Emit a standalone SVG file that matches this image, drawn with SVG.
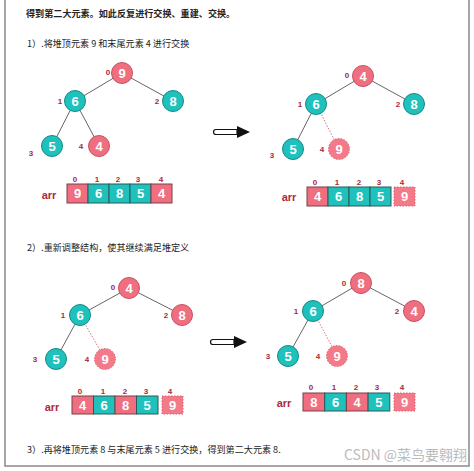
<svg xmlns="http://www.w3.org/2000/svg" width="474" height="471" viewBox="0 0 474 471">
<style>
.t{font-family:"Noto Sans CJK SC","Noto Sans",sans-serif;font-size:9.1px;fill:#222}
.tb{font-weight:bold}
.p{fill:#ef6f80;stroke:#c9505f;stroke-width:1}
.c{fill:#1fc1bc;stroke:#138a86;stroke-width:1}
.d{fill:#f27a89;stroke:#e06070;stroke-width:1;stroke-dasharray:1.5 1.5}
.n{font-family:"Liberation Sans",Arial,sans-serif;font-size:13px;font-weight:bold;fill:#fff;text-anchor:middle}
.i{font-family:"Liberation Sans",Arial,sans-serif;font-size:8px;font-weight:bold;fill:#a8283a;text-anchor:middle}
.arr{font-family:"Liberation Sans",Arial,sans-serif;font-size:11px;font-weight:bold;fill:#b02a3c;text-anchor:middle}
.e{stroke:#666;stroke-width:1;fill:none}
.ed{stroke:#e07080;stroke-width:1;fill:none;stroke-dasharray:1.5 1.5}
.cp{fill:#ef6f80;stroke:#7a4048;stroke-width:1}
.cc{fill:#1fc1bc;stroke:#2a5a58;stroke-width:1}
.cd{fill:#f27a89;stroke:#e06070;stroke-width:1;stroke-dasharray:1.5 1.5}
</style>
<rect width="474" height="471" fill="#fff"/>
<path d="M5 0 V466 H469 V0" fill="none" stroke="#8a8a8a" stroke-width="1.5"/>

<text class="t tb" x="26" y="17">得到第二大元素。如此反复进行交换、重建、交换。</text>
<text class="t" x="27" y="47">1）.将堆顶元素 9 和末尾元素 4 进行交换</text>
<text class="t" x="27" y="251">2）.重新调整结构，使其继续满足堆定义</text>
<text class="t" x="27" y="453">3）.再将堆顶元素 8 与末尾元素 5 进行交换，得到第二大元素 8.</text>
<text x="344" y="460" font-family="&quot;Noto Sans CJK SC&quot;,sans-serif" font-size="14" fill="#bbb">CSDN @菜鸟要翱翔</text>

<g id="connectors">
  <line class="e" x1="122" y1="73" x2="75" y2="101"/>
  <line class="e" x1="122" y1="73" x2="173" y2="101"/>
  <line class="e" x1="75" y1="101" x2="52" y2="146"/>
  <line class="e" x1="75" y1="101" x2="99" y2="146"/>

  <line class="e" x1="363" y1="76" x2="316" y2="104"/>
  <line class="e" x1="363" y1="76" x2="414" y2="104"/>
  <line class="e" x1="316" y1="104" x2="293" y2="149"/>
  <line class="ed" x1="316" y1="104" x2="339" y2="149"/>

  <line class="e" x1="129" y1="288" x2="80" y2="315"/>
  <line class="e" x1="129" y1="288" x2="182" y2="315"/>
  <line class="e" x1="80" y1="315" x2="56" y2="359"/>
  <line class="ed" x1="80" y1="315" x2="105" y2="359"/>

  <line class="e" x1="361" y1="283" x2="313" y2="311"/>
  <line class="e" x1="361" y1="283" x2="414" y2="311"/>
  <line class="e" x1="313" y1="311" x2="288" y2="356"/>
  <line class="ed" x1="313" y1="311" x2="337" y2="356"/>

  <g id="arrow1">
    <path d="M216 129.5 H237 V134.5 H216 A2.5 2.5 0 0 1 216 129.5 Z" fill="#fff" stroke="#111" stroke-width="1.2"/>
    <path d="M237 126 L250 132 L237 138 Z" fill="#111"/>
  </g>
  <g id="arrow2">
    <path d="M213 339.5 H234 V344.5 H213 A2.5 2.5 0 0 1 213 339.5 Z" fill="#fff" stroke="#111" stroke-width="1.2"/>
    <path d="M234 336 L247 342 L234 348 Z" fill="#111"/>
  </g>
</g>

<!-- Tree 1 -->
<g id="t1n0"><circle class="p" cx="122" cy="73" r="10.5"/><text class="n" x="122" y="77.5">9</text><text class="i" x="108" y="75">0</text></g>
<g id="t1n1"><circle class="c" cx="75" cy="101" r="10.5"/><text class="n" x="75" y="105.5">6</text><text class="i" x="60" y="104">1</text></g>
<g id="t1n2"><circle class="c" cx="173" cy="101" r="10.5"/><text class="n" x="173" y="105.5">8</text><text class="i" x="157" y="104">2</text></g>
<g id="t1n3"><circle class="c" cx="52" cy="146" r="10.5"/><text class="n" x="52" y="150.5">5</text><text class="i" x="31" y="156">3</text></g>
<g id="t1n4"><circle class="p" cx="99" cy="146" r="10.5"/><text class="n" x="99" y="150.5">4</text><text class="i" x="81" y="149">4</text></g>

<g id="arr1">
  <text class="arr" x="49" y="199">arr</text>
  <rect class="cp" x="67" y="184" width="21" height="19"/><text class="n" x="77.5" y="198">9</text>
  <rect class="cc" x="88" y="184" width="21" height="19"/><text class="n" x="98.5" y="198">6</text>
  <rect class="cc" x="109" y="184" width="21" height="19"/><text class="n" x="119.5" y="198">8</text>
  <rect class="cc" x="130" y="184" width="21" height="19"/><text class="n" x="140.5" y="198">5</text>
  <rect class="cp" x="151" y="184" width="21" height="19"/><text class="n" x="161.5" y="198">4</text>
  <text class="i" x="75" y="182">0</text><text class="i" x="97" y="182">1</text><text class="i" x="118" y="182">2</text><text class="i" x="138" y="182">3</text><text class="i" x="161" y="182">4</text>
</g>

<!-- Tree 2 -->
<g id="t2n0"><circle class="p" cx="363" cy="76" r="10.5"/><text class="n" x="363" y="80.5">4</text><text class="i" x="347" y="78">0</text></g>
<g id="t2n1"><circle class="c" cx="316" cy="104" r="10.5"/><text class="n" x="316" y="108.5">6</text><text class="i" x="300" y="107">1</text></g>
<g id="t2n2"><circle class="c" cx="414" cy="104" r="10.5"/><text class="n" x="414" y="108.5">8</text><text class="i" x="398" y="107">2</text></g>
<g id="t2n3"><circle class="c" cx="293" cy="149" r="10.5"/><text class="n" x="293" y="153.5">5</text><text class="i" x="272" y="158">3</text></g>
<g id="t2n4"><circle class="d" cx="339" cy="149" r="10.5"/><text class="n" x="339" y="153.5">9</text><text class="i" x="322" y="152">4</text></g>

<g id="arr2">
  <text class="arr" x="289" y="201">arr</text>
  <rect class="cp" x="307" y="187" width="21" height="19"/><text class="n" x="317.5" y="201">4</text>
  <rect class="cc" x="328" y="187" width="21" height="19"/><text class="n" x="338.5" y="201">6</text>
  <rect class="cc" x="349" y="187" width="21" height="19"/><text class="n" x="359.5" y="201">8</text>
  <rect class="cc" x="370" y="187" width="21" height="19"/><text class="n" x="380.5" y="201">5</text>
  <rect class="cd" x="394" y="187" width="21" height="19"/><text class="n" x="404.5" y="201">9</text>
  <text class="i" x="315" y="185">0</text><text class="i" x="337" y="185">1</text><text class="i" x="359" y="185">2</text><text class="i" x="379" y="185">3</text><text class="i" x="402" y="185">4</text>
</g>

<!-- Tree 3 -->
<g id="t3n0"><circle class="p" cx="129" cy="288" r="10.5"/><text class="n" x="129" y="292.5">4</text><text class="i" x="113" y="290">0</text></g>
<g id="t3n1"><circle class="c" cx="80" cy="315" r="10.5"/><text class="n" x="80" y="319.5">6</text><text class="i" x="63" y="318">1</text></g>
<g id="t3n2"><circle class="p" cx="182" cy="315" r="10.5"/><text class="n" x="182" y="319.5">8</text><text class="i" x="166" y="318">2</text></g>
<g id="t3n3"><circle class="c" cx="56" cy="359" r="10.5"/><text class="n" x="56" y="363.5">5</text><text class="i" x="35" y="362">3</text></g>
<g id="t3n4"><circle class="d" cx="105" cy="359" r="10.5"/><text class="n" x="105" y="363.5">9</text><text class="i" x="87" y="362">4</text></g>

<g id="arr3">
  <text class="arr" x="52" y="411">arr</text>
  <rect class="cp" x="72" y="396" width="21.5" height="18"/><text class="n" x="82.7" y="409.5">4</text>
  <rect class="cc" x="93.5" y="396" width="21.5" height="18"/><text class="n" x="104.2" y="409.5">6</text>
  <rect class="cp" x="115" y="396" width="21.5" height="18"/><text class="n" x="125.7" y="409.5">8</text>
  <rect class="cc" x="136.5" y="396" width="21.5" height="18"/><text class="n" x="147.2" y="409.5">5</text>
  <rect class="cd" x="162" y="396" width="21" height="18"/><text class="n" x="172.5" y="409.5">9</text>
  <text class="i" x="80" y="394">0</text><text class="i" x="103" y="394">1</text><text class="i" x="125" y="394">2</text><text class="i" x="146" y="394">3</text><text class="i" x="170" y="394">4</text>
</g>

<!-- Tree 4 -->
<g id="t4n0"><circle class="p" cx="361" cy="283" r="10.5"/><text class="n" x="361" y="287.5">8</text><text class="i" x="344" y="286">0</text></g>
<g id="t4n1"><circle class="c" cx="313" cy="311" r="10.5"/><text class="n" x="313" y="315.5">6</text><text class="i" x="296" y="314">1</text></g>
<g id="t4n2"><circle class="p" cx="414" cy="311" r="10.5"/><text class="n" x="414" y="315.5">4</text><text class="i" x="397" y="314">2</text></g>
<g id="t4n3"><circle class="c" cx="288" cy="356" r="10.5"/><text class="n" x="288" y="360.5">5</text><text class="i" x="268" y="359">3</text></g>
<g id="t4n4"><circle class="d" cx="337" cy="356" r="10.5"/><text class="n" x="337" y="360.5">9</text><text class="i" x="318" y="359">4</text></g>

<g id="arr4">
  <text class="arr" x="284" y="407">arr</text>
  <rect class="cp" x="303" y="393" width="21.7" height="18"/><text class="n" x="313.8" y="406.5">8</text>
  <rect class="cc" x="324.7" y="393" width="21.7" height="18"/><text class="n" x="335.5" y="406.5">6</text>
  <rect class="cp" x="346.4" y="393" width="21.7" height="18"/><text class="n" x="357.2" y="406.5">4</text>
  <rect class="cc" x="368.1" y="393" width="21.7" height="18"/><text class="n" x="378.9" y="406.5">5</text>
  <rect class="cd" x="394" y="393" width="21" height="18"/><text class="n" x="404.5" y="406.5">9</text>
  <text class="i" x="311" y="390">0</text><text class="i" x="334" y="390">1</text><text class="i" x="356" y="390">2</text><text class="i" x="377" y="390">3</text><text class="i" x="402" y="390">4</text>
</g>
</svg>
